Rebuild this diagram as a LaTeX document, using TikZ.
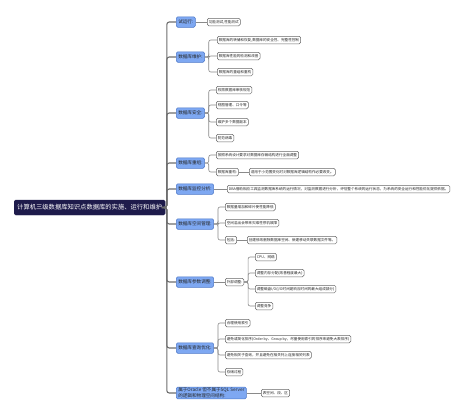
\documentclass[tikz,border=0pt]{standalone}
\usepackage{fontspec}
\setmainfont{Noto Sans CJK SC}
\definecolor{rootc}{HTML}{1E1B4B}
\definecolor{topicf}{HTML}{7EA8F2}
\definecolor{topicb}{HTML}{4D78C8}
\definecolor{linkc}{HTML}{8A8A8A}
\definecolor{trunkc}{HTML}{6E6E6E}
\tikzset{
  rootbox/.style={draw=rootc, fill=rootc, text=white, rounded corners=1.5pt,
    font=\fontsize{6.3}{7.3}\selectfont, inner xsep=3pt, minimum height=15pt, anchor=west},
  topic/.style={draw=topicb, fill=topicf, rounded corners=1.5pt, line width=0.5pt,
    font=\fontsize{4.6}{5.6}\selectfont, text=black!85, inner xsep=2pt, inner ysep=1pt,
    minimum height=10.5pt, anchor=west, align=left},
  leaf/.style={draw=black!60, fill=white, rounded corners=1.5pt, line width=0.5pt,
    font=\fontsize{3.6}{4.4}\selectfont, text=black!85, inner xsep=1.6pt, inner ysep=1pt,
    minimum height=7.5pt, anchor=west},
  link/.style={draw=linkc, line width=0.6pt, rounded corners=2pt},
  trunk/.style={draw=trunkc, line width=1.1pt, rounded corners=2.5pt},
}
\begin{document}
\begin{tikzpicture}[x=1pt,y=-1pt]
\useasboundingbox[fill=white] (0,0) rectangle (474,418);

% root
\node[rootbox] (root) at (14,207.5) {计算机三级数据库知识点数据库的实施、运行和维护};

% topics
\node[topic] (t1) at (176,22) {试运行:};
\node[topic] (t2) at (176,57) {数据库维护:};
\node[topic] (t3) at (176,113) {数据库安全:};
\node[topic] (t4) at (176,163) {数据库重组:};
\node[topic] (t5) at (176,189) {数据库监控分析:};
\node[topic] (t6) at (176,224) {数据库空间管理:};
\node[topic] (t7) at (176,282) {数据库参数调整:};
\node[topic] (t8) at (176,348) {数据库查询优化:};
\node[topic] (t9) at (176,393) {属于Oracle 但不属于SQL Server\\的逻辑和物理空间结构:};

\foreach \t in {t1,t2,t3,t4,t5,t6,t7,t8,t9}
  \draw[trunk] (root.east) -- ++(1.5,0) |- (\t.west);

% 试运行
\node[leaf] (a1) at (207,22) {功能测试,性能测试};
\draw[link] (t1.east) -- (a1.west);

% 数据库维护
\node[leaf] (b1) at (217,40) {数据库的转储和恢复,数据库的安全性、完整性控制};
\node[leaf] (b2) at (217,56) {数据库性能的检测和改善};
\node[leaf] (b3) at (217,72) {数据库的重组和重构};
\foreach \c in {b1,b2,b3}
  \draw[link] (t2.east) -- ++(4,0) |- (\c.west);

% 数据库安全
\node[leaf] (c1) at (216,90) {权限数据库审核规范};
\node[leaf] (c2) at (216,105) {视图管理、口令等};
\node[leaf] (c3) at (216,122) {维护多个数据副本};
\node[leaf] (c4) at (216,138) {防范病毒};
\foreach \c in {c1,c2,c3,c4}
  \draw[link] (t3.east) -- ++(4,0) |- (\c.west);

% 数据库重组
\node[leaf] (d1) at (216,155) {按照系统设计要求对数据库存储结构进行全面调整};
\node[leaf] (d2) at (216,172) {数据库重构:};
\node[leaf] (d3) at (249,172) {适用于小范围变化时对数据库逻辑结构作必要改变。};
\foreach \c in {d1,d2}
  \draw[link] (t4.east) -- ++(4,0) |- (\c.west);
\draw[link] (d2.east) -- (d3.west);

% 数据库监控分析
\node[leaf] (e1) at (227,189) {DBA借助相应工具监测数据库系统的运行情况，对监测数据进行分析，评估整个系统的运行状态，为系统的安全运行和性能优化提供依据。};
\draw[link] (t5.east) -- (e1.west);

% 数据库空间管理
\node[leaf] (f1) at (225,207) {数据量增加和碎片使性能降低};
\node[leaf] (f2) at (225,223) {空间溢出会带来灾难性停机故障};
\node[leaf] (f3) at (225,240) {包括:};
\node[leaf] (f4) at (247,240) {创建修改删除数据库空间、新建移动关联数据文件等。};
\foreach \c in {f1,f2,f3}
  \draw[link] (t6.east) -- ++(4,0) |- (\c.west);
\draw[link] (f3.east) -- (f4.west);

% 数据库参数调整
\node[leaf] (g0) at (225,282) {外部调整:};
\draw[link] (t7.east) -- (g0.west);
\node[leaf] (g1) at (255,257) {CPU、网络};
\node[leaf] (g2) at (255,273) {调整内存分配(改善程度最大)};
\node[leaf] (g3) at (255,289) {调整磁盘I/O(I/O时间是响应时间的最大组成部分)};
\node[leaf] (g4) at (255,306) {调整竞争};
\foreach \c in {g1,g2,g3,g4}
  \draw[link] (g0.east) -- ++(4,0) |- (\c.west);

% 数据库查询优化
\node[leaf] (h1) at (225,323) {合理使用索引};
\node[leaf] (h2) at (225,339) {避免或简化排序(Order by、Group by，尽量使用索引的排序来避免大表排序)};
\node[leaf] (h3) at (225,355) {避免相关子查询，并且避免在相关列上连接相关列表};
\node[leaf] (h4) at (225,372) {存储过程};
\foreach \c in {h1,h2,h3,h4}
  \draw[link] (t8.east) -- ++(4,0) |- (\c.west);

% Oracle
\node[leaf] (i1) at (261,393) {表空间、段、区};
\draw[link] (t9.east) -- (i1.west);
\end{tikzpicture}
\end{document}
